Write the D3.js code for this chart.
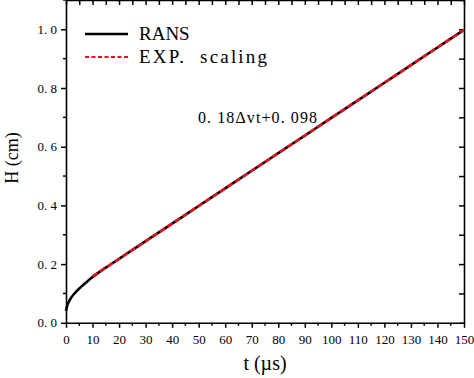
<!DOCTYPE html>
<html>
<head>
<meta charset="utf-8">
<script src="https://cdn.jsdelivr.net/npm/d3@7"></script>
<style>
  body { margin: 0; background: #fff; }
  text { font-family: "Liberation Serif", "Times New Roman", "DejaVu Serif", serif; fill: #000; }
</style>
</head>
<body>
<div id="chart"></div>
<script>
// RANS curve (t in us, H in cm)
const ransT = [0, 0.5, 1, 2, 3, 4, 5, 6, 8, 10, 15, 20, 30, 40, 50, 60, 70, 80, 90, 100, 110, 120, 130, 140, 150];
const ransH = [0.040, 0.060, 0.071, 0.086, 0.098, 0.108, 0.117, 0.125, 0.141, 0.156, 0.188, 0.218, 0.278, 0.338, 0.398, 0.458, 0.518, 0.578, 0.638, 0.698, 0.758, 0.818, 0.878, 0.938, 0.998];

// EXP. scaling fit
const expT = [10, 50, 100, 150];
const expH = [0.158, 0.398, 0.698, 0.998];

const xTicks = [0, 10, 20, 30, 40, 50, 60, 70, 80, 90, 100, 110, 120, 130, 140, 150];
const yTicks = [0, 0.2, 0.4, 0.6, 0.8, 1.0];
const yTickLabels = ["0. 0", "0. 2", "0. 4", "0. 6", "0. 8", "1. 0"];
const legendNames = ["RANS", "EXP.  scaling"];
const annotation = "0. 18Δvt+0. 098";

const W = 474, H = 378;
const margin = { top: 0, right: 10, bottom: 55, left: 66 };
const height = 322.8;
const serif = "'Liberation Serif', 'Times New Roman', 'DejaVu Serif', serif";

const svg = d3.select("#chart").append("svg")
  .attr("width", W).attr("height", H);

const g = svg.append("g")
  .attr("transform", `translate(${margin.left},${margin.top})`);

const x = d3.scaleLinear().domain([0, 150]).range([0, 398]);
const y = d3.scaleLinear().domain([0, 1.1]).range([height, height - 1.1 * 293.5]);

// minor ticks
const xMinor = d3.range(0, 151, 5);
const yMinor = d3.range(0, 1.101, 0.1);

// bottom axis: outward ticks
const bottomAxis = g.append("g").attr("transform", `translate(0,${height})`);
bottomAxis.call(d3.axisBottom(x).tickValues(xTicks).tickSize(5).tickSizeOuter(0).tickPadding(7));
bottomAxis.selectAll("line.minor").data(xMinor.filter(d => d % 10 !== 0)).join("line")
  .attr("class", "minor")
  .attr("x1", d => x(d)).attr("x2", d => x(d))
  .attr("y1", 0).attr("y2", 3);

// left axis: outward ticks
const leftAxis = g.append("g");
leftAxis.call(d3.axisLeft(y).tickValues(yTicks).tickFormat((d, i) => yTickLabels[i]).tickSize(5).tickSizeOuter(0).tickPadding(4));
leftAxis.selectAll("line.minor").data(yMinor.filter((d, i) => i % 2 === 1)).join("line")
  .attr("class", "minor")
  .attr("x1", -3).attr("x2", 0)
  .attr("y1", d => y(d)).attr("y2", d => y(d));

// top axis: inward ticks
const topAxis = g.append("g").attr("transform", `translate(0,${y(1.1)})`);
topAxis.call(d3.axisTop(x).tickValues(xMinor).tickSize(-5).tickSizeOuter(0).tickFormat(""));

// right axis: inward ticks
const rightAxis = g.append("g").attr("transform", `translate(${x(150)},0)`);
rightAxis.call(d3.axisRight(y).tickValues(yMinor).tickSize(-5).tickSizeOuter(0).tickFormat(""));

g.selectAll(".domain").attr("stroke", "#000").attr("stroke-width", 1.6);
g.selectAll(".tick line, line.minor").attr("stroke", "#000").attr("stroke-width", 1.5);
g.selectAll(".tick text").attr("font-family", serif).attr("font-size", 13).attr("fill", "#000");

// curves
const line = d3.line().x(d => x(d[0])).y(d => y(d[1])).curve(d3.curveMonotoneX);

g.append("path")
  .datum(ransT.map((t, i) => [t, ransH[i]]))
  .attr("fill", "none").attr("stroke", "#000").attr("stroke-width", 2.6)
  .attr("d", line);

g.append("path")
  .datum(expT.map((t, i) => [t, expH[i]]))
  .attr("fill", "none").attr("stroke", "#e8101c").attr("stroke-width", 2.6)
  .attr("stroke-dasharray", "6,3")
  .attr("d", line);

// legend
const legend = svg.append("g");
const styles = [
  { stroke: "#000", width: 2.6, dash: null },
  { stroke: "#e8101c", width: 2.2, dash: "4,2.5" }
];
legendNames.forEach((name, i) => {
  const ly = 34 + i * 23;
  legend.append("line")
    .attr("x1", 85).attr("x2", 128).attr("y1", ly).attr("y2", ly)
    .attr("stroke", styles[i].stroke).attr("stroke-width", styles[i].width)
    .attr("stroke-dasharray", styles[i].dash);
  const t = legend.append("text")
    .attr("x", 139).attr("y", ly + 6)
    .attr("font-family", serif)
    .attr("font-size", 19)
    .attr("xml:space", "preserve")
    .text(name);
  if (i === 1) t.attr("textLength", 128).attr("lengthAdjust", "spacing");
});

// annotation
svg.append("text")
  .attr("x", 198).attr("y", 123)
  .attr("font-family", serif)
  .attr("font-size", 16)
  .attr("textLength", 119)
  .text(annotation);

// axis labels
svg.append("text")
  .attr("x", margin.left + 199).attr("y", 370)
  .attr("text-anchor", "middle")
  .attr("font-family", serif)
  .attr("font-size", 20)
  .text("t (µs)");

svg.append("text")
  .attr("transform", `translate(18,${158}) rotate(-90)`)
  .attr("text-anchor", "middle")
  .attr("font-family", serif)
  .attr("font-size", 18)
  .text("H (cm)");
</script>
</body>
</html>
